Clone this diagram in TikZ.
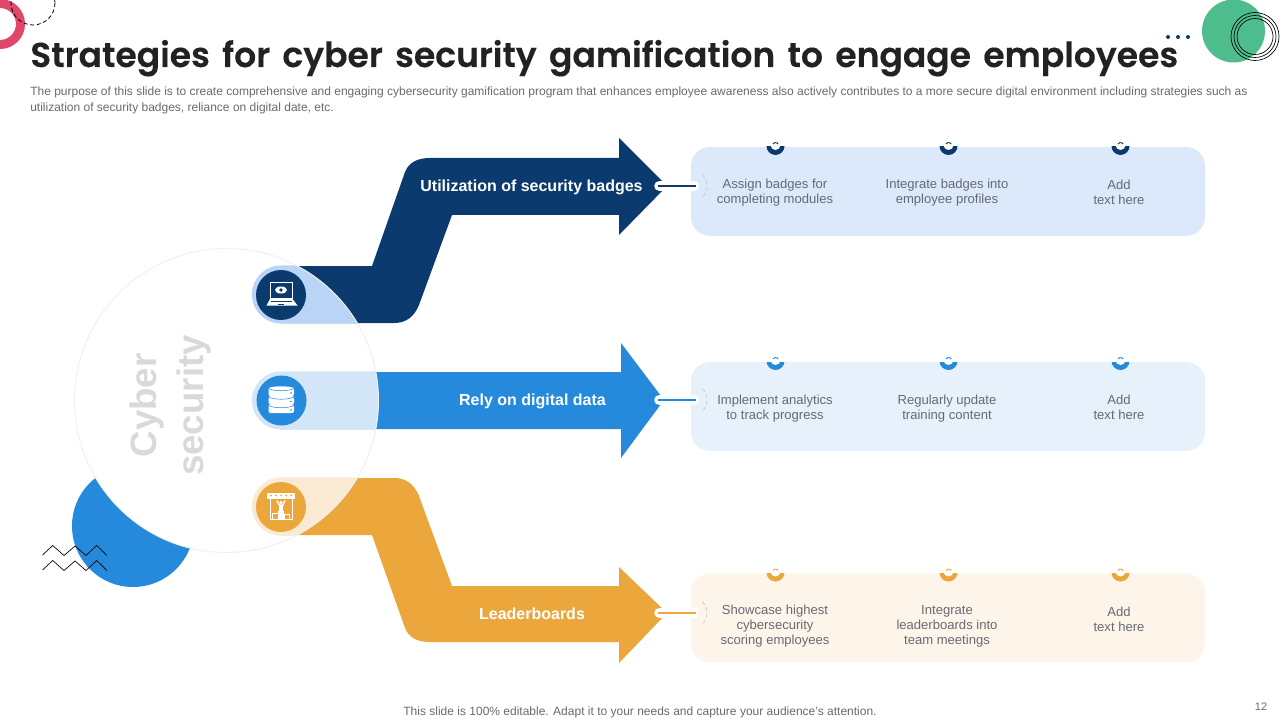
\documentclass[tikz,border=0pt]{standalone}
\usepackage{fontspec}
\setmainfont{Liberation Sans}
\newfontfamily\titlefont[WordSpace=1.5,FakeBold=0.3]{Poppins SemiBold}
\definecolor{darkblue}{HTML}{0B3A6F}
\definecolor{midblue}{HTML}{2589DC}
\definecolor{sunorange}{HTML}{EBA63C}
\definecolor{palea}{HTML}{B9D4F5}
\definecolor{paleb}{HTML}{D3E6F7}
\definecolor{palec}{HTML}{FAE9D3}
\definecolor{boxa}{HTML}{DBE9FA}
\definecolor{boxb}{HTML}{E6F1FB}
\definecolor{boxc}{HTML}{FDF5E9}
\definecolor{bodygray}{HTML}{666B73}
\definecolor{inkgray}{HTML}{222222}
\definecolor{ringpink}{HTML}{E0476B}
\definecolor{discgreen}{HTML}{4DBD8D}
\tikzset{
  rowbox/.style={rectangle, rounded corners=14pt, minimum width=385.5pt, minimum height=66.5pt, inner sep=0pt},
  boxtext/.style={align=center, text=bodygray, font=\fontsize{9.8}{11.2}\selectfont, inner sep=0pt},
  arrowlabel/.style={text=white, font=\fontsize{12}{14}\selectfont\bfseries, inner sep=0pt},
  notetext/.style={text=bodygray, font=\fontsize{9}{11.3}\selectfont, inner sep=0pt}
}
\newcommand{\arrowtop}{(281,266) -- (372,266) -- (405,172) .. controls (409,162) and (418,158) .. (430,158) -- (619,158) -- (619,138) -- (667,186) -- (619,235) -- (619,215) -- (452,215) -- (419,305) .. controls (414,317) and (406,323) .. (394,323) -- (281,323) arc[start angle=90,end angle=270,radius=28.5] -- cycle}
\newcommand{\arrowmid}{(281,372) -- (621,372) -- (621,343) -- (664,400) -- (621,458) -- (621,429) -- (281,429) arc[start angle=90,end angle=270,radius=28.5] -- cycle}
\newcommand{\arrowlow}{(281,478) -- (394,478) .. controls (406,478) and (414,484) .. (419,496) -- (452,586) -- (619,586) -- (619,567) -- (667,613) -- (619,663) -- (619,642) -- (430,642) .. controls (418,642) and (409,638) .. (405,628) -- (372,535) -- (281,535) arc[start angle=90,end angle=270,radius=28.5] -- cycle}
\begin{document}
\begin{tikzpicture}[x=0.75pt,y=-0.75pt]
  \useasboundingbox (0,0) rectangle (1280,720);
  \clip (0,0) rectangle (1280,720);
  % corners
  \fill[fill=white] (0,0) rectangle (1280,720);
  \draw[line width=6.75pt, color=ringpink] (0,24) circle[radius=20.5];
  \draw[black, densely dashed, line width=0.6pt] (33,3) circle[radius=22];
  \fill[color=discgreen] (1233.5,31) circle[radius=31.5];
  \foreach \r in {24,21,18}{
    \draw[black, line width=0.5pt] (1255,36.5) circle[radius=\r];
  }
  \foreach \x in {1168,1178,1188}{
    \fill[darkblue] (\x,37) circle[radius=2];
  }
  % title
  \node[anchor=base west, inner sep=0pt, text=inkgray, font=\fontsize{25.9}{30}\titlefont] (title) at (30,67) {Strategies for cyber security gamification to engage employees};
  \node[anchor=north west, align=left, notetext] (intro) at (30,87) {The purpose of this slide is to create comprehensive and engaging cybersecurity gamification program that enhances employee awareness also actively contributes to a more secure digital environment including strategies such as\\utilization of security badges, reliance on digital date, etc.};
  % moon and hub
  \fill[midblue] (133,526) circle[radius=61];
  \fill[white] (226.5,400.5) circle[radius=152];
  % arrows
  \fill[darkblue] \arrowtop;
  \fill[midblue] \arrowmid;
  \fill[sunorange] \arrowlow;
  \begin{scope}
    \clip (226.5,400.5) circle[radius=152];
    \filldraw[palea, line width=0.8pt] \arrowtop;
    \filldraw[paleb, line width=0.8pt] \arrowmid;
    \filldraw[palec, line width=0.8pt] \arrowlow;
  \end{scope}
  \draw[black!6, line width=0.75pt] (226.5,400.5) circle[radius=152];
  \node[rotate=90, align=center, text=black!15, font=\fontsize{27.5}{35}\selectfont\bfseries, inner sep=0pt] (hub) at (170.5,405.5) {Cyber\\security};
  % zigzags
  \foreach \y in {0,15}{
    \draw[black, line width=0.5pt] (42.5,555+\y) -- (52.7,545.5+\y) -- (64,555.5+\y) -- (75,546+\y) -- (86,555.5+\y) -- (96.7,545.5+\y) -- (107,555.5+\y);
  }
  % rows
  \foreach \rowid/\tipy/\boxy/\col/\fillcol in {a/186/191.5/darkblue/boxa,b/400/406.5/midblue/boxb,c/613/618/sunorange/boxc}{
    \node[rowbox, fill=\fillcol] (box\rowid) at (948,\boxy) {};
    \coordinate (tip\rowid) at (659.5,\tipy);
    \coordinate (port\rowid) at (694,\tipy);
    \draw[white, line width=8pt, line cap=round] (tip\rowid) -- (port\rowid);
    \draw[\col, line width=1.6pt, shorten <=-1pt, shorten >=-1.5pt] (tip\rowid) -- (port\rowid);
    \draw[black!25, densely dashed, line width=0.4pt] (691,\tipy) ++(-45:16) arc[start angle=-45,end angle=45,radius=16];
    \foreach \x in {775.5,948.5,1120.5}{
      \begin{scope}
        \clip (\x-10,\boxy-44.5) rectangle (\x+10,\boxy-34);
        \fill[\col] (\x,\boxy-45.5) circle[radius=9];
      \end{scope}
      \fill[white] (\x,\boxy-46.5) circle[radius=5];
      \draw[\col, line width=0.7pt] (\x,\boxy-46) ++(-150:3) arc[start angle=-150,end angle=-30,radius=3];
    }
  }
  % arrow labels
  \node[arrowlabel] (lbla) at (531.5,187) {Utilization of security badges};
  \node[arrowlabel] (lblb) at (532.5,401) {Rely on digital data};
  \node[arrowlabel] (lblc) at (532,613.5) {Leaderboards};
  % box texts
  \node[boxtext] (ta1) at (775,193) {Assign badges for\\completing modules};
  \node[boxtext] (ta2) at (947,193) {Integrate badges into\\employee profiles};
  \node[boxtext] (ta3) at (1119,192) {Add\\text here};
  \node[boxtext] (tb1) at (775,408.5) {Implement analytics\\to track progress};
  \node[boxtext] (tb2) at (947,408.5) {Regularly update\\training content};
  \node[boxtext] (tb3) at (1119,407) {Add\\text here};
  \node[boxtext] (tc1) at (775,626.5) {Showcase highest\\cybersecurity\\scoring employees};
  \node[boxtext] (tc2) at (947,626.5) {Integrate\\leaderboards into\\team meetings};
  \node[boxtext] (tc3) at (1119,619) {Add\\text here};
  % icon discs
  \fill[darkblue] (281,295) circle[radius=25];
  \fill[midblue] (281.5,400.5) circle[radius=25];
  \fill[sunorange] (281,507) circle[radius=25];
  % laptop
  \draw[white, line width=0.6pt] (270,298) rectangle (292.5,282.5);
  \fill[white] (270,299) -- (292.5,299) -- (297.5,305.5) -- (266.5,305.5) -- cycle;
  \fill[darkblue] (270.5,301) rectangle (292,302);
  \fill[white] (281,290) ellipse[x radius=6, y radius=3.5];
  \fill[darkblue] (281,290) circle[radius=1.8];
  \fill[darkblue] (278,303.8) rectangle (284,305);
  % database
  \foreach \y in {388,396.5,405}{
    \fill[white, rounded corners=1.5pt] (268.5,\y) rectangle (294,\y+8);
    \fill[white] (281.2,\y+0.5) ellipse[x radius=12.7, y radius=2.2];
    \draw[midblue, line width=0.4pt] (268.5,\y+0.5) .. controls (274,\y+3.5) and (288,\y+3.5) .. (294,\y+0.5);
    \fill[midblue] (291,\y+5) circle[radius=0.9];
  }
  % podium
  \fill[white] (266.7,492.5) rectangle (295,498.5);
  \foreach \x in {271,276,281,286,291}{
    \fill[sunorange] (\x,495.5) circle[radius=1];
  }
  \draw[white, line width=0.7pt] (270,498.5) -- (270,519) -- (292,519) -- (292,498.5);
  \fill[white] (281,502.5) circle[radius=1.8];
  \draw[white, line width=1pt] (277,500.5) -- (279,505) -- (283,505) -- (285,500.5);
  \fill[white] (279,505) rectangle (283,511);
  \draw[white, line width=0.7pt] (272.5,519) rectangle (278,513);
  \fill[white] (278,511) rectangle (284,519);
  \draw[white, line width=0.7pt] (284,519) rectangle (289.5,514);
  % footer
  \node[text=bodygray, font=\fontsize{9}{11}\selectfont, inner sep=0pt] (foot) at (640,712) {This slide is 100\% editable. Adapt it to your needs and capture your audience's attention.};
  \node[text=bodygray, font=\fontsize{8.2}{10}\selectfont, inner sep=0pt] (pageno) at (1261,707) {12};
\end{tikzpicture}
\end{document}
